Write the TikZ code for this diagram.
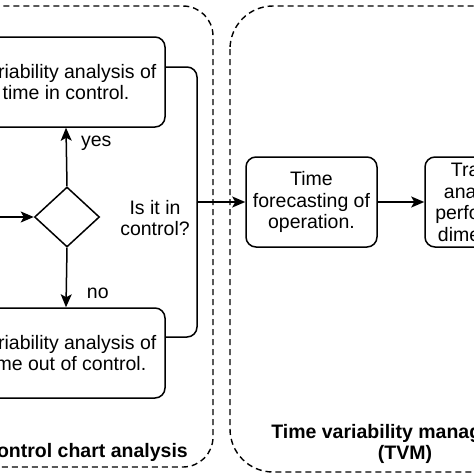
\documentclass[tikz,border=0pt]{standalone}
\usepackage{fontspec}
\setmainfont{Liberation Sans}
\usetikzlibrary{arrows.meta}
\usetikzlibrary{shapes.geometric}
\tikzset{
      procbox/.style={draw=black, line width=1.5, rounded corners=10, minimum height=90,
            align=center, inner sep=0, font=\fontsize{19.5}{21.5}\selectfont},
      decision/.style={draw=black, line width=1.5, diamond, minimum width=65, minimum height=60, inner sep=0},
      group/.style={draw=black, line width=1.4, dash pattern=on 6pt off 4pt},
      flow/.style={draw=black, line width=1.5, -{Stealth[length=13pt,width=11pt,inset=3pt]}},
      link/.style={draw=black, line width=1.5, rounded corners=10},
      txt/.style={inner sep=0, align=center, font=\fontsize{19.5}{21.5}\selectfont},
      grouplabel/.style={inner sep=0, align=center, font=\fontsize{19.5}{21.5}\selectfont\bfseries},
}
\begin{document}
\begin{tikzpicture}[x=1pt, y=-1pt]
        \useasboundingbox (0,0) rectangle (474,474);
        \clip (0,0) rectangle (474,474);

        % Draw the groups
        \draw[group, rounded corners=30] (-60,6) rectangle (213,467);
        \draw[group, rounded corners=43] (230,6) rectangle (590,472);
        \node[grouplabel, anchor=east] (cclabel) at (188,452) {Control chart analysis};
        \node[grouplabel] (tvmlabel) at (405,444) {Time variability management\\(TVM)};

        % Draw the boxes
        \node[procbox, minimum width=198] (inctrl) at (66,82) {Variability analysis of\\time in control.};
        \node[procbox, minimum width=198] (outctrl) at (66,353) {Variability analysis of\\time out of control.};
        \node[decision] (check) at (67,217) {};
        \node[txt] (question) at (155,218) {Is it in\\control?};
        \node[procbox, minimum width=131] (forecast) at (311.5,202) {Time\\forecasting of\\operation.};
        \node[procbox, minimum width=130] (tradeoff) at (490,202) {Trade-off\\analysis of\\performance\\dimensions.};

        % Draw the connectors
        \coordinate (start) at (-20,217);
        \coordinate (join) at (197,202);
        \draw[flow] (start) -- (check.west);
        \draw[flow] (check.north) -- node[txt, right=14pt, pos=0.73] (yes) {yes} (inctrl.south);
        \draw[flow] (check.south) -- node[txt, right=20pt, pos=0.77] (no) {no} (outctrl.north);
        \draw[link] ([yshift=15]inctrl.east) -| (join);
        \draw[link] ([yshift=16]outctrl.east) -| (join);
        \draw[flow] (join) -- (forecast.west);
        \draw[flow] (forecast.east) -- (tradeoff.west);

\end{tikzpicture}
\end{document}
